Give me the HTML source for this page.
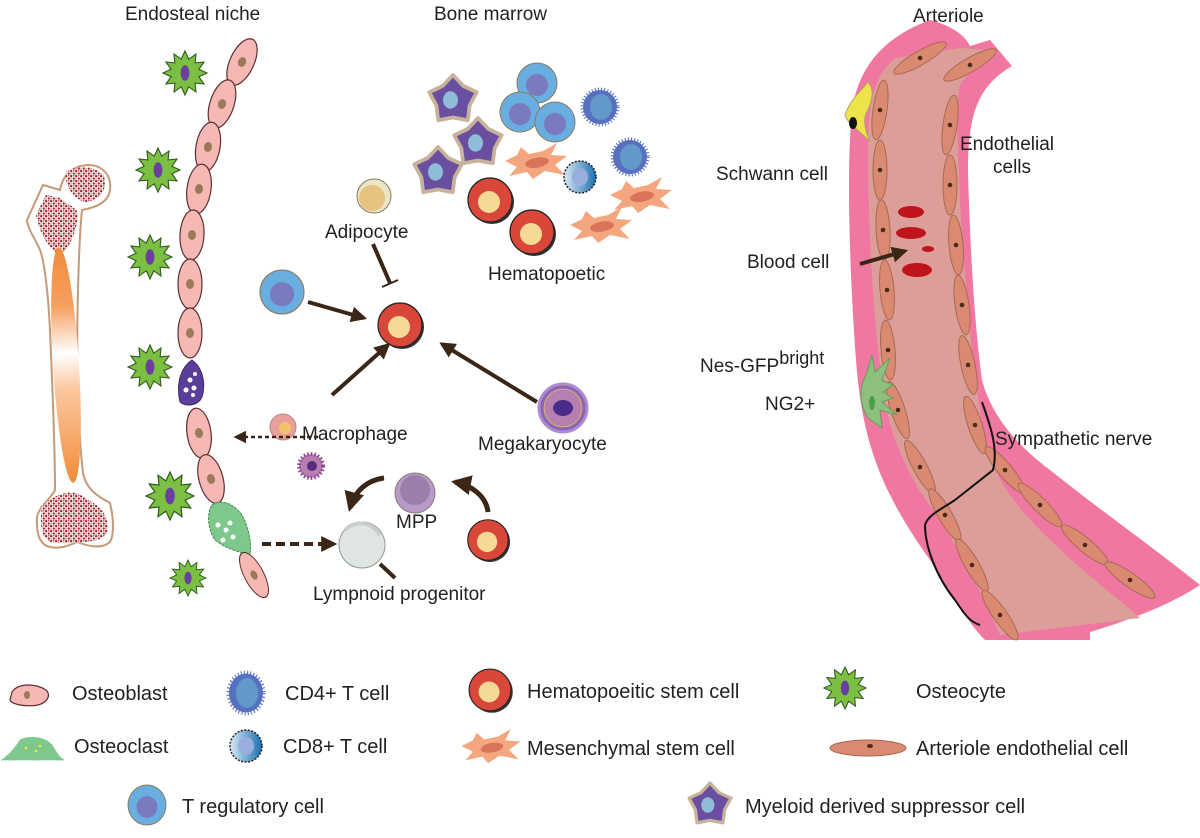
<!DOCTYPE html>
<html><head><meta charset="utf-8"><style>
html,body{margin:0;padding:0;background:#fff}
svg{display:block}
text{font-family:"Liberation Sans",Arial,sans-serif;fill:#231f20}
</style></head><body>
<svg width="1200" height="838" viewBox="0 0 1200 838" xmlns="http://www.w3.org/2000/svg">
<defs>
<linearGradient id="marrow" x1="0" y1="0" x2="0" y2="1">
<stop offset="0" stop-color="#f28c3a"/><stop offset="0.25" stop-color="#f5a060"/><stop offset="0.45" stop-color="#fff"/><stop offset="0.6" stop-color="#fbc8a0"/><stop offset="1" stop-color="#f28c3a"/></linearGradient>
<linearGradient id="cd8g" x1="0" y1="0" x2="1" y2="0">
<stop offset="0" stop-color="#d8eaf5"/><stop offset="1" stop-color="#1b6fb0"/></linearGradient>
<pattern id="speck" width="5" height="5" patternUnits="userSpaceOnUse"><rect width="5" height="5" fill="#fff"/><circle cx="1.2" cy="1.2" r="1.2" fill="#9b1d22"/><circle cx="3.8" cy="3.5" r="1.1" fill="#9b1d22"/><circle cx="3.8" cy="0.8" r="0.7" fill="#9b1d22"/><circle cx="1" cy="4" r="0.6" fill="#9b1d22"/></pattern>
<g id="hsc"><circle cx="2" cy="2" r="22" fill="#333"/><circle r="22" fill="#d9473b" stroke="#222" stroke-width="1.2"/><circle cx="-1" cy="2" r="11" fill="#f5d995"/></g>
<g id="treg"><circle r="20" fill="#69aee0" stroke="#8b7a5e" stroke-width="1"/><circle cx="0" cy="2" r="11" fill="#7a7abf"/></g>
<g id="cd4"><circle r="17" fill="#5770c0" stroke="#5770c0" stroke-width="5" stroke-dasharray="1 2"/><ellipse cx="1" cy="0" rx="11" ry="13" fill="#6299c9"/></g>
<g id="cd8"><circle r="16" fill="url(#cd8g)" stroke="#222" stroke-width="1.5" stroke-dasharray="2 1.5"/><ellipse cx="0" cy="0" rx="8" ry="9" fill="#98aede"/></g>
<g id="mdsc"><polygon points="0,-20 8.2,-11.3 19,-6.2 13.3,4.3 11.8,16.2 0,14 -11.8,16.2 -13.3,4.3 -19,-6.2 -8.2,-11.3" fill="#6a4ea0" stroke="#c8b39a" stroke-width="3" stroke-linejoin="round"/><ellipse cx="-2" cy="0" rx="6" ry="7" fill="#8fbcd8"/></g>
<g id="msc"><polygon points="-30,-2 -18,-8 -14,-16 -6,-9 8,-12 22,-20 16,-8 32,-7 20,2 30,12 10,8 -2,16 -8,9 -26,13 -18,4" fill="#f4a77e"/><ellipse cx="2" cy="0" rx="12" ry="5" transform="rotate(-10)" fill="#d9735a"/></g>
<g id="ocyte"><polygon points="20,0 12.6,3.4 17.3,10 9.2,9.2 10,17.3 3.4,12.6 0,20 -3.4,12.6 -10,17.3 -9.2,9.2 -17.3,10 -12.6,3.4 -20,0 -12.6,-3.4 -17.3,-10 -9.2,-9.2 -10,-17.3 -3.4,-12.6 0,-20 3.4,-12.6 10,-17.3 9.2,-9.2 17.3,-10 12.6,-3.4" fill="#7cc043" stroke="#2e5a1d" stroke-width="1"/><ellipse rx="4" ry="7" fill="#6a3fa0"/></g>
<g id="oblast"><ellipse rx="12" ry="25" fill="#f6b8b4" stroke="#5a3030" stroke-width="1.2"/><ellipse cx="0" cy="0" rx="4" ry="5" fill="#9b7a5a"/></g>
<g id="endo"><ellipse rx="7" ry="30" fill="#d98a70" stroke="#a86a55" stroke-width="1"/><circle r="2.3" fill="#4a2a1a"/></g>
<marker id="ah" viewBox="0 0 10 10" refX="8" refY="5" markerWidth="4" markerHeight="4" orient="auto"><path d="M0,0 L10,5 L0,10 z" fill="#3a2616"/></marker>
<marker id="ah2" viewBox="0 0 10 10" refX="8" refY="5" markerWidth="5" markerHeight="5" orient="auto"><path d="M0,0 L10,5 L0,10 z" fill="#3a2616"/></marker>
</defs>

<text x="125" y="20" font-size="19">Endosteal niche</text>
<text x="434" y="20" font-size="19">Bone marrow</text>
<text x="913" y="22" font-size="19">Arteriole</text>

<!-- bone -->
<path d="M27,220 L43,185 L60,190 C62,178 70,166 88,165 C102,165 112,175 110,190 C108,202 98,207 82,210 C80,230 79,250 78,290 C76,360 78,430 83,473 C86,488 95,495 110,503 C114,520 114,535 110,542 C102,549 90,547 77,542 C68,546 60,549 50,547 C40,545 36,535 37,517 C40,505 50,500 55,490 C55,440 52,380 50,330 C48,290 44,260 40,250 C35,238 28,230 27,220 Z" fill="#fff" stroke="#c59a78" stroke-width="2"/>
<path d="M66,172 C75,165 95,165 104,176 C108,190 100,200 86,202 C74,200 64,186 66,172 Z" fill="url(#speck)"/>
<path d="M36,215 L46,195 L60,198 C68,205 78,208 78,215 C76,235 68,250 60,255 C50,250 40,235 36,215 Z" fill="url(#speck)"/>
<path d="M42,505 C52,498 70,485 85,498 C98,505 108,512 108,530 C105,543 85,542 60,543 C45,544 38,535 42,505 Z" fill="url(#speck)"/>
<ellipse cx="66" cy="365" rx="13" ry="118" transform="rotate(-3.5 66 365)" fill="url(#marrow)"/>

<!-- osteoblast chain -->
<use href="#oblast" transform="translate(242,62) rotate(25)"/>
<use href="#oblast" transform="translate(222,104) rotate(18)"/>
<use href="#oblast" transform="translate(208,147) rotate(10)"/>
<use href="#oblast" transform="translate(199,189) rotate(8)"/>
<use href="#oblast" transform="translate(192,235) rotate(3)"/>
<use href="#oblast" transform="translate(190,284)"/>
<use href="#oblast" transform="translate(190,333)"/>
<path d="M192,360 C180,368 176,385 180,402 C186,407 198,406 202,397 C206,384 203,368 192,360 Z" fill="#5b3e9a" stroke="#3a2a6a"/>
<circle cx="190" cy="380" r="2.5" fill="#fff"/><circle cx="194" cy="388" r="2.5" fill="#fff"/><circle cx="186" cy="390" r="2.5" fill="#fff"/><circle cx="195" cy="374" r="2" fill="#fff"/><circle cx="193" cy="395" r="2" fill="#fff"/>
<use href="#oblast" transform="translate(199,433) rotate(-8)"/>
<use href="#oblast" transform="translate(211,479) rotate(-15)"/>
<path d="M212,505 C222,498 235,505 242,515 C248,527 252,540 250,555 C238,552 225,548 215,540 C207,528 207,512 212,505 Z" fill="#7fc88c" stroke="#4a8a55" stroke-dasharray="3 1"/>
<circle cx="218" cy="525" r="2.5" fill="#fff"/><circle cx="226" cy="530" r="2.5" fill="#fff"/><circle cx="233" cy="537" r="2.5" fill="#fff"/><circle cx="223" cy="540" r="2.5" fill="#fff"/><circle cx="230" cy="523" r="2.5" fill="#fff"/>
<use href="#oblast" transform="translate(254,575) rotate(-28) scale(0.8,1)"/>

<use href="#ocyte" transform="translate(185,73) scale(1.1)"/>
<use href="#ocyte" transform="translate(158,170) scale(1.1)"/>
<use href="#ocyte" transform="translate(150,257) scale(1.1)"/>
<use href="#ocyte" transform="translate(150,367) scale(1.1)"/>
<use href="#ocyte" transform="translate(170,496) scale(1.2)"/>
<use href="#ocyte" transform="translate(188,578) scale(0.9)"/>

<!-- bone marrow cluster -->
<use href="#mdsc" transform="translate(453,100) scale(1.25)"/>
<use href="#mdsc" transform="translate(478,143) scale(1.25)"/>
<use href="#mdsc" transform="translate(438,172) scale(1.25)"/>
<use href="#treg" transform="translate(537,83)"/>
<use href="#treg" transform="translate(520,112)"/>
<use href="#treg" transform="translate(555,122)"/>
<use href="#cd4" transform="translate(600,107)"/>
<use href="#cd4" transform="translate(630,157)"/>
<use href="#msc" transform="translate(535,163)"/>
<use href="#cd8" transform="translate(580,177)"/>
<use href="#msc" transform="translate(640,197)"/>
<use href="#msc" transform="translate(600,227)"/>
<use href="#hsc" transform="translate(490,200)"/>
<use href="#hsc" transform="translate(532,232)"/>
<text x="488" y="280" font-size="19">Hematopoetic</text>

<!-- center -->
<circle cx="374" cy="196" r="17" fill="#e9e6c8" stroke="#8a7a5a"/>
<circle cx="372" cy="198" r="13" fill="#e8c27f"/>
<text x="325" y="238" font-size="19">Adipocyte</text>
<line x1="373" y1="244" x2="390" y2="283" stroke="#3a2616" stroke-width="4"/>
<line x1="382" y1="287" x2="398" y2="280" stroke="#3a2616" stroke-width="2"/>
<use href="#hsc" transform="translate(400,325)"/>
<use href="#treg" transform="translate(282,292) scale(1.1)"/>
<line x1="308" y1="302" x2="364" y2="318" stroke="#3a2616" stroke-width="4" marker-end="url(#ah)"/>
<line x1="332" y1="395" x2="388" y2="345" stroke="#3a2616" stroke-width="4" marker-end="url(#ah)"/>
<line x1="537" y1="402" x2="442" y2="344" stroke="#3a2616" stroke-width="4" marker-end="url(#ah)"/>
<circle cx="563" cy="408" r="24" fill="#8a64b5" stroke="#b08ad0" stroke-width="3"/>
<circle cx="563" cy="408" r="19" fill="#b77fb0" stroke="#e0c060" stroke-width="0.8"/>
<ellipse cx="563" cy="408" rx="10" ry="8" fill="#4a2d8a"/>
<text x="478" y="450" font-size="19">Megakaryocyte</text>
<circle cx="283" cy="427" r="13" fill="#e8a09a" stroke="#c08080"/>
<circle cx="285" cy="428" r="6" fill="#f2c36a"/>
<text x="302" y="440" font-size="19">Macrophage</text>
<line x1="318" y1="437" x2="236" y2="437" stroke="#3a2616" stroke-width="2.5" stroke-dasharray="4 3" marker-end="url(#ah2)"/>
<circle cx="311" cy="466" r="12" fill="#b77fb0" stroke="#8a4a8a" stroke-width="4" stroke-dasharray="1.5 2"/>
<circle cx="312" cy="466" r="5" fill="#5a2a80"/>
<circle cx="415" cy="493" r="20" fill="#b79bc6" stroke="#8a7a7a"/>
<circle cx="415" cy="490" r="15" fill="#9a80a8"/>
<text x="396" y="528" font-size="19">MPP</text>
<use href="#hsc" transform="translate(488,540) scale(0.92)"/>
<path d="M488,512 C486,495 470,485 455,482" fill="none" stroke="#3a2616" stroke-width="5" marker-end="url(#ah)"/>
<path d="M384,478 C368,480 355,490 350,508" fill="none" stroke="#3a2616" stroke-width="5" marker-end="url(#ah)"/>
<circle cx="362" cy="545" r="23" fill="#dfe5e3" stroke="#8a9a8a"/>
<path d="M345,530 A22,22 0 0,1 380,535" fill="none" stroke="#c9cfc8" stroke-width="4"/>
<line x1="380" y1="564" x2="395" y2="578" stroke="#3a2616" stroke-width="4"/>
<text x="313" y="600" font-size="19">Lympnoid progenitor</text>
<line x1="262" y1="544" x2="334" y2="544" stroke="#3a2616" stroke-width="4" stroke-dasharray="9 5" marker-end="url(#ah)"/>

<!-- arteriole -->
<path d="M930,20 C890,35 860,60 852,110 C846,170 850,280 856,360 C862,440 880,490 930,560 C955,600 970,625 985,640 L1090,640 L1090,632 C1130,620 1170,605 1200,585 C1150,545 1100,510 1050,470 C1010,440 990,410 982,380 C975,330 970,250 968,170 C968,110 980,85 1012,66 L990,40 L970,46 C965,35 950,25 930,20 Z" fill="#ef77a2"/>
<path d="M895,58 C875,75 868,100 868,150 C868,250 876,340 883,390 C890,440 910,480 940,520 C965,560 985,600 1000,635 L1140,618 C1120,600 1080,570 1040,530 C1010,500 990,470 983,430 C970,350 965,280 960,200 C958,140 955,110 960,85 C970,70 985,60 990,50 L960,48 Z" fill="#dc9e98"/>
<use href="#endo" transform="translate(920,58) rotate(60)"/>
<use href="#endo" transform="translate(880,110) rotate(8)"/>
<use href="#endo" transform="translate(880,170)"/>
<use href="#endo" transform="translate(883,230) rotate(-3)"/>
<use href="#endo" transform="translate(887,290) rotate(-5)"/>
<use href="#endo" transform="translate(888,350) rotate(-5)"/>
<use href="#endo" transform="translate(898,410) rotate(-18)"/>
<use href="#endo" transform="translate(920,467) rotate(-28)"/>
<use href="#endo" transform="translate(945,515) rotate(-30)"/>
<use href="#endo" transform="translate(972,565) rotate(-30)"/>
<use href="#endo" transform="translate(1000,615) rotate(-35)"/>
<use href="#endo" transform="translate(970,65) rotate(60)"/>
<use href="#endo" transform="translate(950,125) rotate(8)"/>
<use href="#endo" transform="translate(950,185)"/>
<use href="#endo" transform="translate(956,245) rotate(-5)"/>
<use href="#endo" transform="translate(962,305) rotate(-8)"/>
<use href="#endo" transform="translate(968,365) rotate(-12)"/>
<use href="#endo" transform="translate(975,425) rotate(-18)"/>
<use href="#endo" transform="translate(1005,470) rotate(-40)"/>
<use href="#endo" transform="translate(1040,505) rotate(-45)"/>
<use href="#endo" transform="translate(1085,545) rotate(-50)"/>
<use href="#endo" transform="translate(1130,580) rotate(-55)"/>
<path d="M982,402 C992,430 998,450 993,470 L955,500 C940,510 928,515 925,525 C925,545 935,575 955,600 C965,615 970,622 980,625" fill="none" stroke="#111" stroke-width="2"/>
<path d="M868,82 C860,92 850,100 845,115 C848,125 860,130 870,142 C865,130 862,118 868,110 C872,100 875,90 868,82 Z" fill="#ece44a" stroke="#b8a060"/>
<ellipse cx="853" cy="123" rx="4" ry="6" fill="#111"/>
<text x="716" y="180" font-size="19">Schwann cell</text>
<text x="960" y="150" font-size="19">Endothelial</text>
<text x="993" y="173" font-size="19">cells</text>
<ellipse cx="911" cy="212" rx="13" ry="6" fill="#c0141c"/>
<ellipse cx="911" cy="233" rx="15" ry="6" fill="#c0141c"/>
<ellipse cx="928" cy="249" rx="6" ry="3" fill="#c0141c"/>
<ellipse cx="917" cy="270" rx="15" ry="7" fill="#c0141c"/>
<text x="747" y="268" font-size="19">Blood cell</text>
<line x1="860" y1="264" x2="905" y2="251" stroke="#3a2616" stroke-width="4" marker-end="url(#ah)"/>
<path d="M872,355 L875,372 L890,358 L882,380 L893,385 L883,392 L893,398 L882,402 L897,415 L880,410 L882,428 L868,418 C860,405 858,390 866,375 Z" fill="#8cc07c" stroke="#6a9a5a"/>
<ellipse cx="872" cy="403" rx="3" ry="7" fill="#4aa04a"/>
<text x="700" y="372" font-size="19">Nes-GFP<tspan dy="-8" font-size="18">bright</tspan></text>
<text x="765" y="410" font-size="19">NG2+</text>
<text x="995" y="445" font-size="19">Sympathetic nerve</text>

<!-- legend -->
<path d="M12,692 C18,683 35,683 46,690 C52,696 46,703 38,705 C28,707 12,705 10,700 Z" fill="#f6b8b4" stroke="#5a3030" stroke-width="1.2"/>
<ellipse cx="27" cy="695" rx="3" ry="4" fill="#9b7a5a"/>
<text x="72" y="700" font-size="20">Osteoblast</text>
<path d="M2,760 C8,755 14,750 20,740 C30,735 45,737 52,745 C56,752 60,758 64,760 Z" fill="#7fc88c" stroke="#7fc88c" stroke-dasharray="2 1"/>
<circle cx="26" cy="748" r="1.3" fill="#ee3"/><circle cx="36" cy="751" r="1.3" fill="#ee3"/><circle cx="40" cy="746" r="1.3" fill="#ee3"/>
<text x="74" y="753" font-size="20">Osteoclast</text>
<use href="#cd4" transform="translate(246,693) scale(1,1.15)"/>
<text x="285" y="700" font-size="20">CD4+ T cell</text>
<use href="#cd8" transform="translate(246,746)"/>
<text x="283" y="753" font-size="20">CD8+ T cell</text>
<use href="#treg" transform="translate(147,805) scale(0.95,1)"/>
<text x="182" y="813" font-size="20">T regulatory cell</text>
<use href="#hsc" transform="translate(490,690) scale(0.95)"/>
<text x="527" y="698" font-size="20">Hematopoeitic stem cell</text>
<use href="#msc" transform="translate(490,748) scale(0.95)"/>
<text x="527" y="755" font-size="20">Mesenchymal stem cell</text>
<use href="#ocyte" transform="translate(845,688) scale(1.05)"/>
<text x="916" y="698" font-size="20">Osteocyte</text>
<ellipse cx="868" cy="748" rx="38" ry="8" fill="#d98a70" stroke="#a86a55"/>
<ellipse cx="870" cy="746" rx="3" ry="2" fill="#4a2a1a"/>
<text x="916" y="755" font-size="20">Arteriole endothelial cell</text>
<use href="#mdsc" transform="translate(710,805) scale(1.1)"/>
<text x="745" y="813" font-size="20">Myeloid derived suppressor cell</text>
</svg>
</body></html>
